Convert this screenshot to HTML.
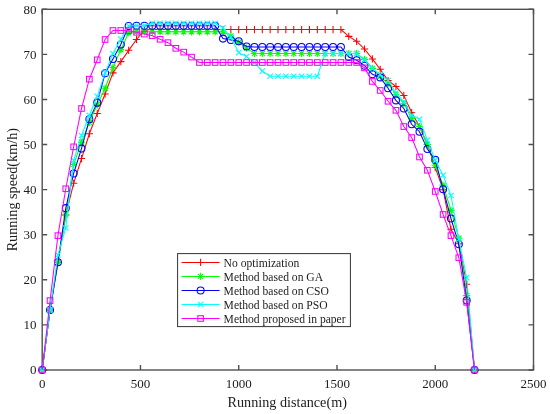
<!DOCTYPE html>
<html lang="en"><head><meta charset="utf-8"><title>Running speed vs running distance</title>
<style>html,body{margin:0;padding:0;background:#fff}body{width:550px;height:414px;overflow:hidden}</style>
</head><body>
<svg width="550" height="414" viewBox="0 0 550 414" style="display:block">
<rect width="550" height="414" fill="#fff"/>
<g stroke="#505050" stroke-width="1.4" fill="none">
<rect x="42.2" y="9.3" width="491.3" height="360.7"/>
<path d="M42.2 370.0v-5M42.2 9.3v5M140.46 370.0v-5M140.46 9.3v5M238.72 370.0v-5M238.72 9.3v5M336.98 370.0v-5M336.98 9.3v5M435.24 370.0v-5M435.24 9.3v5M533.5 370.0v-5M533.5 9.3v5M42.2 370h5M533.5 370h-5M42.2 324.91h5M533.5 324.91h-5M42.2 279.82h5M533.5 279.82h-5M42.2 234.74h5M533.5 234.74h-5M42.2 189.65h5M533.5 189.65h-5M42.2 144.56h5M533.5 144.56h-5M42.2 99.48h5M533.5 99.48h-5M42.2 54.39h5M533.5 54.39h-5M42.2 9.3h5M533.5 9.3h-5"/>
</g>
<g fill="none" stroke-width="1.05">
<g stroke="#ff0000"><polyline points="42.2,370 50.06,310.03 57.92,262.24 65.78,214.9 73.64,183.34 81.5,158.54 89.36,133.74 97.23,113.45 105.09,94.06 112.95,72.87 120.81,61.6 128.67,50.33 136.53,39.51 144.39,30.04 152.25,29.59 160.11,29.59 167.97,29.59 175.83,29.59 183.69,29.59 191.56,29.59 199.42,29.59 207.28,29.59 215.14,29.59 223,29.59 230.86,29.59 238.72,29.59 246.58,29.59 254.44,29.59 262.3,29.59 270.16,29.59 278.02,29.59 285.88,29.59 293.75,29.59 301.61,29.59 309.47,29.59 317.33,29.59 325.19,29.59 333.05,29.59 340.91,29.59 348.77,36.35 356.63,41.31 364.49,48.98 372.35,58.9 380.21,69.27 388.08,80.54 395.94,86.4 403.8,95.42 411.66,112.55 419.52,126.53 427.38,144.56 435.24,167.56 443.1,189.65 450.96,229.33 458.82,243.75 466.68,284.33 474.54,370"/>
<path d="M38.6 370H45.8M42.2 366.4V373.6"/><path d="M46.46 310.03H53.66M50.06 306.43V313.63"/><path d="M54.32 262.24H61.52M57.92 258.64V265.84"/><path d="M62.18 214.9H69.38M65.78 211.3V218.5"/><path d="M70.04 183.34H77.24M73.64 179.74V186.94"/><path d="M77.9 158.54H85.1M81.5 154.94V162.14"/><path d="M85.76 133.74H92.96M89.36 130.14V137.34"/><path d="M93.63 113.45H100.83M97.23 109.85V117.05"/><path d="M101.49 94.06H108.69M105.09 90.46V97.66"/><path d="M109.35 72.87H116.55M112.95 69.27V76.47"/><path d="M117.21 61.6H124.41M120.81 58V65.2"/><path d="M125.07 50.33H132.27M128.67 46.73V53.93"/><path d="M132.93 39.51H140.13M136.53 35.91V43.11"/><path d="M140.79 30.04H147.99M144.39 26.44V33.64"/><path d="M148.65 29.59H155.85M152.25 25.99V33.19"/><path d="M156.51 29.59H163.71M160.11 25.99V33.19"/><path d="M164.37 29.59H171.57M167.97 25.99V33.19"/><path d="M172.23 29.59H179.43M175.83 25.99V33.19"/><path d="M180.09 29.59H187.29M183.69 25.99V33.19"/><path d="M187.96 29.59H195.16M191.56 25.99V33.19"/><path d="M195.82 29.59H203.02M199.42 25.99V33.19"/><path d="M203.68 29.59H210.88M207.28 25.99V33.19"/><path d="M211.54 29.59H218.74M215.14 25.99V33.19"/><path d="M219.4 29.59H226.6M223 25.99V33.19"/><path d="M227.26 29.59H234.46M230.86 25.99V33.19"/><path d="M235.12 29.59H242.32M238.72 25.99V33.19"/><path d="M242.98 29.59H250.18M246.58 25.99V33.19"/><path d="M250.84 29.59H258.04M254.44 25.99V33.19"/><path d="M258.7 29.59H265.9M262.3 25.99V33.19"/><path d="M266.56 29.59H273.76M270.16 25.99V33.19"/><path d="M274.42 29.59H281.62M278.02 25.99V33.19"/><path d="M282.28 29.59H289.48M285.88 25.99V33.19"/><path d="M290.15 29.59H297.35M293.75 25.99V33.19"/><path d="M298.01 29.59H305.21M301.61 25.99V33.19"/><path d="M305.87 29.59H313.07M309.47 25.99V33.19"/><path d="M313.73 29.59H320.93M317.33 25.99V33.19"/><path d="M321.59 29.59H328.79M325.19 25.99V33.19"/><path d="M329.45 29.59H336.65M333.05 25.99V33.19"/><path d="M337.31 29.59H344.51M340.91 25.99V33.19"/><path d="M345.17 36.35H352.37M348.77 32.75V39.95"/><path d="M353.03 41.31H360.23M356.63 37.71V44.91"/><path d="M360.89 48.98H368.09M364.49 45.38V52.58"/><path d="M368.75 58.9H375.95M372.35 55.3V62.5"/><path d="M376.61 69.27H383.81M380.21 65.67V72.87"/><path d="M384.48 80.54H391.68M388.08 76.94V84.14"/><path d="M392.34 86.4H399.54M395.94 82.8V90"/><path d="M400.2 95.42H407.4M403.8 91.82V99.02"/><path d="M408.06 112.55H415.26M411.66 108.95V116.15"/><path d="M415.92 126.53H423.12M419.52 122.93V130.13"/><path d="M423.78 144.56H430.98M427.38 140.96V148.16"/><path d="M431.64 167.56H438.84M435.24 163.96V171.16"/><path d="M439.5 189.65H446.7M443.1 186.05V193.25"/><path d="M447.36 229.33H454.56M450.96 225.73V232.93"/><path d="M455.22 243.75H462.42M458.82 240.16V247.35"/><path d="M463.08 284.33H470.28M466.68 280.73V287.93"/><path d="M470.94 370H478.14M474.54 366.4V373.6"/>
</g>
<g stroke="#00ff00"><polyline points="42.2,370 50.06,310.03 57.92,262.24 65.78,214.9 73.64,164.4 81.5,142.31 89.36,122.47 97.23,104.89 105.09,88.2 112.95,67.46 120.81,49.88 128.67,32.75 136.53,31.84 144.39,31.84 152.25,31.84 160.11,31.84 167.97,31.84 175.83,31.84 183.69,31.84 191.56,31.84 199.42,31.84 207.28,31.84 215.14,31.84 223,31.84 230.86,35.9 238.72,42.21 246.58,48.08 254.44,53.49 262.3,53.49 270.16,53.49 278.02,53.49 285.88,53.49 293.75,53.49 301.61,53.49 309.47,53.49 317.33,53.49 325.19,53.49 333.05,53.49 340.91,53.49 348.77,53.49 356.63,53.49 364.49,59.35 372.35,68.36 380.21,76.48 388.08,83.69 395.94,94.52 403.8,103.53 411.66,118.41 419.52,126.53 427.38,144.56 435.24,165.3 443.1,185.14 450.96,210.39 458.82,238.34 466.68,295.61 474.54,370"/>
<path d="M38.6 370H45.8M42.2 366.4V373.6M39.6 367.4L44.8 372.6M39.6 372.6L44.8 367.4"/><path d="M46.46 310.03H53.66M50.06 306.43V313.63M47.46 307.43L52.66 312.63M47.46 312.63L52.66 307.43"/><path d="M54.32 262.24H61.52M57.92 258.64V265.84M55.32 259.64L60.52 264.84M55.32 264.84L60.52 259.64"/><path d="M62.18 214.9H69.38M65.78 211.3V218.5M63.18 212.3L68.38 217.5M63.18 217.5L68.38 212.3"/><path d="M70.04 164.4H77.24M73.64 160.8V168M71.04 161.8L76.24 167M71.04 167L76.24 161.8"/><path d="M77.9 142.31H85.1M81.5 138.71V145.91M78.9 139.71L84.1 144.91M78.9 144.91L84.1 139.71"/><path d="M85.76 122.47H92.96M89.36 118.87V126.07M86.76 119.87L91.96 125.07M86.76 125.07L91.96 119.87"/><path d="M93.63 104.89H100.83M97.23 101.29V108.49M94.63 102.29L99.83 107.49M94.63 107.49L99.83 102.29"/><path d="M101.49 88.2H108.69M105.09 84.6V91.8M102.49 85.6L107.69 90.8M102.49 90.8L107.69 85.6"/><path d="M109.35 67.46H116.55M112.95 63.86V71.06M110.35 64.86L115.55 70.06M110.35 70.06L115.55 64.86"/><path d="M117.21 49.88H124.41M120.81 46.28V53.48M118.21 47.28L123.41 52.48M118.21 52.48L123.41 47.28"/><path d="M125.07 32.75H132.27M128.67 29.15V36.35M126.07 30.15L131.27 35.35M126.07 35.35L131.27 30.15"/><path d="M132.93 31.84H140.13M136.53 28.24V35.44M133.93 29.24L139.13 34.44M133.93 34.44L139.13 29.24"/><path d="M140.79 31.84H147.99M144.39 28.24V35.44M141.79 29.24L146.99 34.44M141.79 34.44L146.99 29.24"/><path d="M148.65 31.84H155.85M152.25 28.24V35.44M149.65 29.24L154.85 34.44M149.65 34.44L154.85 29.24"/><path d="M156.51 31.84H163.71M160.11 28.24V35.44M157.51 29.24L162.71 34.44M157.51 34.44L162.71 29.24"/><path d="M164.37 31.84H171.57M167.97 28.24V35.44M165.37 29.24L170.57 34.44M165.37 34.44L170.57 29.24"/><path d="M172.23 31.84H179.43M175.83 28.24V35.44M173.23 29.24L178.43 34.44M173.23 34.44L178.43 29.24"/><path d="M180.09 31.84H187.29M183.69 28.24V35.44M181.09 29.24L186.29 34.44M181.09 34.44L186.29 29.24"/><path d="M187.96 31.84H195.16M191.56 28.24V35.44M188.96 29.24L194.16 34.44M188.96 34.44L194.16 29.24"/><path d="M195.82 31.84H203.02M199.42 28.24V35.44M196.82 29.24L202.02 34.44M196.82 34.44L202.02 29.24"/><path d="M203.68 31.84H210.88M207.28 28.24V35.44M204.68 29.24L209.88 34.44M204.68 34.44L209.88 29.24"/><path d="M211.54 31.84H218.74M215.14 28.24V35.44M212.54 29.24L217.74 34.44M212.54 34.44L217.74 29.24"/><path d="M219.4 31.84H226.6M223 28.24V35.44M220.4 29.24L225.6 34.44M220.4 34.44L225.6 29.24"/><path d="M227.26 35.9H234.46M230.86 32.3V39.5M228.26 33.3L233.46 38.5M228.26 38.5L233.46 33.3"/><path d="M235.12 42.21H242.32M238.72 38.61V45.81M236.12 39.61L241.32 44.81M236.12 44.81L241.32 39.61"/><path d="M242.98 48.08H250.18M246.58 44.48V51.68M243.98 45.48L249.18 50.68M243.98 50.68L249.18 45.48"/><path d="M250.84 53.49H258.04M254.44 49.89V57.09M251.84 50.89L257.04 56.09M251.84 56.09L257.04 50.89"/><path d="M258.7 53.49H265.9M262.3 49.89V57.09M259.7 50.89L264.9 56.09M259.7 56.09L264.9 50.89"/><path d="M266.56 53.49H273.76M270.16 49.89V57.09M267.56 50.89L272.76 56.09M267.56 56.09L272.76 50.89"/><path d="M274.42 53.49H281.62M278.02 49.89V57.09M275.42 50.89L280.62 56.09M275.42 56.09L280.62 50.89"/><path d="M282.28 53.49H289.48M285.88 49.89V57.09M283.28 50.89L288.48 56.09M283.28 56.09L288.48 50.89"/><path d="M290.15 53.49H297.35M293.75 49.89V57.09M291.15 50.89L296.35 56.09M291.15 56.09L296.35 50.89"/><path d="M298.01 53.49H305.21M301.61 49.89V57.09M299.01 50.89L304.21 56.09M299.01 56.09L304.21 50.89"/><path d="M305.87 53.49H313.07M309.47 49.89V57.09M306.87 50.89L312.07 56.09M306.87 56.09L312.07 50.89"/><path d="M313.73 53.49H320.93M317.33 49.89V57.09M314.73 50.89L319.93 56.09M314.73 56.09L319.93 50.89"/><path d="M321.59 53.49H328.79M325.19 49.89V57.09M322.59 50.89L327.79 56.09M322.59 56.09L327.79 50.89"/><path d="M329.45 53.49H336.65M333.05 49.89V57.09M330.45 50.89L335.65 56.09M330.45 56.09L335.65 50.89"/><path d="M337.31 53.49H344.51M340.91 49.89V57.09M338.31 50.89L343.51 56.09M338.31 56.09L343.51 50.89"/><path d="M345.17 53.49H352.37M348.77 49.89V57.09M346.17 50.89L351.37 56.09M346.17 56.09L351.37 50.89"/><path d="M353.03 53.49H360.23M356.63 49.89V57.09M354.03 50.89L359.23 56.09M354.03 56.09L359.23 50.89"/><path d="M360.89 59.35H368.09M364.49 55.75V62.95M361.89 56.75L367.09 61.95M361.89 61.95L367.09 56.75"/><path d="M368.75 68.36H375.95M372.35 64.76V71.96M369.75 65.76L374.95 70.96M369.75 70.96L374.95 65.76"/><path d="M376.61 76.48H383.81M380.21 72.88V80.08M377.61 73.88L382.81 79.08M377.61 79.08L382.81 73.88"/><path d="M384.48 83.69H391.68M388.08 80.09V87.29M385.48 81.09L390.68 86.29M385.48 86.29L390.68 81.09"/><path d="M392.34 94.52H399.54M395.94 90.92V98.12M393.34 91.92L398.54 97.12M393.34 97.12L398.54 91.92"/><path d="M400.2 103.53H407.4M403.8 99.93V107.13M401.2 100.93L406.4 106.13M401.2 106.13L406.4 100.93"/><path d="M408.06 118.41H415.26M411.66 114.81V122.01M409.06 115.81L414.26 121.01M409.06 121.01L414.26 115.81"/><path d="M415.92 126.53H423.12M419.52 122.93V130.13M416.92 123.93L422.12 129.13M416.92 129.13L422.12 123.93"/><path d="M423.78 144.56H430.98M427.38 140.96V148.16M424.78 141.96L429.98 147.16M424.78 147.16L429.98 141.96"/><path d="M431.64 165.3H438.84M435.24 161.7V168.9M432.64 162.7L437.84 167.9M432.64 167.9L437.84 162.7"/><path d="M439.5 185.14H446.7M443.1 181.54V188.74M440.5 182.54L445.7 187.74M440.5 187.74L445.7 182.54"/><path d="M447.36 210.39H454.56M450.96 206.79V213.99M448.36 207.79L453.56 212.99M448.36 212.99L453.56 207.79"/><path d="M455.22 238.34H462.42M458.82 234.74V241.94M456.22 235.74L461.42 240.94M456.22 240.94L461.42 235.74"/><path d="M463.08 295.61H470.28M466.68 292.01V299.21M464.08 293.01L469.28 298.21M464.08 298.21L469.28 293.01"/><path d="M470.94 370H478.14M474.54 366.4V373.6M471.94 367.4L477.14 372.6M471.94 372.6L477.14 367.4"/>
</g>
<g stroke="#0000ff"><polyline points="42.2,370 50.06,310.03 57.92,262.24 65.78,208.14 73.64,173.42 81.5,148.62 89.36,119.31 97.23,102.63 105.09,73.32 112.95,58.9 120.81,44.47 128.67,25.98 136.53,25.76 144.39,25.76 152.25,25.76 160.11,25.76 167.97,25.76 175.83,25.76 183.69,25.76 191.56,25.76 199.42,25.76 207.28,25.76 215.14,25.76 223,38.61 230.86,39.96 238.72,41.31 246.58,46.5 254.44,46.95 262.3,46.95 270.16,46.95 278.02,46.95 285.88,46.95 293.75,46.95 301.61,46.95 309.47,46.95 317.33,46.95 325.19,46.95 333.05,46.95 340.91,46.95 348.77,57.09 356.63,60.25 364.49,65.66 372.35,74.23 380.21,77.38 388.08,88.2 395.94,100.38 403.8,108.49 411.66,124.27 419.52,131.71 427.38,149.07 435.24,159.89 443.1,189.2 450.96,218.51 458.82,244.21 466.68,300.57 474.54,370"/>
<circle cx="42.2" cy="370" r="3.5"/><circle cx="50.06" cy="310.03" r="3.5"/><circle cx="57.92" cy="262.24" r="3.5"/><circle cx="65.78" cy="208.14" r="3.5"/><circle cx="73.64" cy="173.42" r="3.5"/><circle cx="81.5" cy="148.62" r="3.5"/><circle cx="89.36" cy="119.31" r="3.5"/><circle cx="97.23" cy="102.63" r="3.5"/><circle cx="105.09" cy="73.32" r="3.5"/><circle cx="112.95" cy="58.9" r="3.5"/><circle cx="120.81" cy="44.47" r="3.5"/><circle cx="128.67" cy="25.98" r="3.5"/><circle cx="136.53" cy="25.76" r="3.5"/><circle cx="144.39" cy="25.76" r="3.5"/><circle cx="152.25" cy="25.76" r="3.5"/><circle cx="160.11" cy="25.76" r="3.5"/><circle cx="167.97" cy="25.76" r="3.5"/><circle cx="175.83" cy="25.76" r="3.5"/><circle cx="183.69" cy="25.76" r="3.5"/><circle cx="191.56" cy="25.76" r="3.5"/><circle cx="199.42" cy="25.76" r="3.5"/><circle cx="207.28" cy="25.76" r="3.5"/><circle cx="215.14" cy="25.76" r="3.5"/><circle cx="223" cy="38.61" r="3.5"/><circle cx="230.86" cy="39.96" r="3.5"/><circle cx="238.72" cy="41.31" r="3.5"/><circle cx="246.58" cy="46.5" r="3.5"/><circle cx="254.44" cy="46.95" r="3.5"/><circle cx="262.3" cy="46.95" r="3.5"/><circle cx="270.16" cy="46.95" r="3.5"/><circle cx="278.02" cy="46.95" r="3.5"/><circle cx="285.88" cy="46.95" r="3.5"/><circle cx="293.75" cy="46.95" r="3.5"/><circle cx="301.61" cy="46.95" r="3.5"/><circle cx="309.47" cy="46.95" r="3.5"/><circle cx="317.33" cy="46.95" r="3.5"/><circle cx="325.19" cy="46.95" r="3.5"/><circle cx="333.05" cy="46.95" r="3.5"/><circle cx="340.91" cy="46.95" r="3.5"/><circle cx="348.77" cy="57.09" r="3.5"/><circle cx="356.63" cy="60.25" r="3.5"/><circle cx="364.49" cy="65.66" r="3.5"/><circle cx="372.35" cy="74.23" r="3.5"/><circle cx="380.21" cy="77.38" r="3.5"/><circle cx="388.08" cy="88.2" r="3.5"/><circle cx="395.94" cy="100.38" r="3.5"/><circle cx="403.8" cy="108.49" r="3.5"/><circle cx="411.66" cy="124.27" r="3.5"/><circle cx="419.52" cy="131.71" r="3.5"/><circle cx="427.38" cy="149.07" r="3.5"/><circle cx="435.24" cy="159.89" r="3.5"/><circle cx="443.1" cy="189.2" r="3.5"/><circle cx="450.96" cy="218.51" r="3.5"/><circle cx="458.82" cy="244.21" r="3.5"/><circle cx="466.68" cy="300.57" r="3.5"/><circle cx="474.54" cy="370" r="3.5"/>
</g>
<g stroke="#00ffff"><polyline points="42.2,370 50.06,310.03 57.92,255.03 65.78,227.97 73.64,160.34 81.5,135.54 89.36,115.26 97.23,96.32 105.09,72.87 112.95,53.49 120.81,39.06 128.67,25.98 136.53,25.53 144.39,25.53 152.25,23.28 160.11,23.28 167.97,23.28 175.83,23.28 183.69,23.28 191.56,23.28 199.42,23.28 207.28,23.28 215.14,23.28 223,27.79 230.86,37.25 238.72,52.58 246.58,56.64 254.44,62.5 262.3,71.07 270.16,76.25 278.02,76.25 285.88,76.25 293.75,76.25 301.61,76.25 309.47,76.25 317.33,76.25 325.19,53.49 333.05,53.49 340.91,53.49 348.77,53.49 356.63,53.49 364.49,60.25 372.35,68.36 380.21,74.68 388.08,80.54 395.94,92.71 403.8,101.73 411.66,115.26 419.52,119.31 427.38,140.05 435.24,160.34 443.1,175.22 450.96,195.51 458.82,239.25 466.68,277.57 474.54,370"/>
<path d="M39.5 367.3L44.9 372.7M39.5 372.7L44.9 367.3"/><path d="M47.36 307.33L52.76 312.73M47.36 312.73L52.76 307.33"/><path d="M55.22 252.33L60.62 257.73M55.22 257.73L60.62 252.33"/><path d="M63.08 225.27L68.48 230.67M63.08 230.67L68.48 225.27"/><path d="M70.94 157.64L76.34 163.04M70.94 163.04L76.34 157.64"/><path d="M78.8 132.84L84.2 138.24M78.8 138.24L84.2 132.84"/><path d="M86.66 112.56L92.06 117.96M86.66 117.96L92.06 112.56"/><path d="M94.53 93.62L99.93 99.02M94.53 99.02L99.93 93.62"/><path d="M102.39 70.17L107.79 75.57M102.39 75.57L107.79 70.17"/><path d="M110.25 50.79L115.65 56.19M110.25 56.19L115.65 50.79"/><path d="M118.11 36.36L123.51 41.76M118.11 41.76L123.51 36.36"/><path d="M125.97 23.28L131.37 28.68M125.97 28.68L131.37 23.28"/><path d="M133.83 22.83L139.23 28.23M133.83 28.23L139.23 22.83"/><path d="M141.69 22.83L147.09 28.23M141.69 28.23L147.09 22.83"/><path d="M149.55 20.58L154.95 25.98M149.55 25.98L154.95 20.58"/><path d="M157.41 20.58L162.81 25.98M157.41 25.98L162.81 20.58"/><path d="M165.27 20.58L170.67 25.98M165.27 25.98L170.67 20.58"/><path d="M173.13 20.58L178.53 25.98M173.13 25.98L178.53 20.58"/><path d="M180.99 20.58L186.39 25.98M180.99 25.98L186.39 20.58"/><path d="M188.86 20.58L194.26 25.98M188.86 25.98L194.26 20.58"/><path d="M196.72 20.58L202.12 25.98M196.72 25.98L202.12 20.58"/><path d="M204.58 20.58L209.98 25.98M204.58 25.98L209.98 20.58"/><path d="M212.44 20.58L217.84 25.98M212.44 25.98L217.84 20.58"/><path d="M220.3 25.09L225.7 30.49M220.3 30.49L225.7 25.09"/><path d="M228.16 34.55L233.56 39.95M228.16 39.95L233.56 34.55"/><path d="M236.02 49.88L241.42 55.28M236.02 55.28L241.42 49.88"/><path d="M243.88 53.94L249.28 59.34M243.88 59.34L249.28 53.94"/><path d="M251.74 59.8L257.14 65.2M251.74 65.2L257.14 59.8"/><path d="M259.6 68.37L265 73.77M259.6 73.77L265 68.37"/><path d="M267.46 73.55L272.86 78.95M267.46 78.95L272.86 73.55"/><path d="M275.32 73.55L280.72 78.95M275.32 78.95L280.72 73.55"/><path d="M283.18 73.55L288.58 78.95M283.18 78.95L288.58 73.55"/><path d="M291.05 73.55L296.45 78.95M291.05 78.95L296.45 73.55"/><path d="M298.91 73.55L304.31 78.95M298.91 78.95L304.31 73.55"/><path d="M306.77 73.55L312.17 78.95M306.77 78.95L312.17 73.55"/><path d="M314.63 73.55L320.03 78.95M314.63 78.95L320.03 73.55"/><path d="M322.49 50.79L327.89 56.19M322.49 56.19L327.89 50.79"/><path d="M330.35 50.79L335.75 56.19M330.35 56.19L335.75 50.79"/><path d="M338.21 50.79L343.61 56.19M338.21 56.19L343.61 50.79"/><path d="M346.07 50.79L351.47 56.19M346.07 56.19L351.47 50.79"/><path d="M353.93 50.79L359.33 56.19M353.93 56.19L359.33 50.79"/><path d="M361.79 57.55L367.19 62.95M361.79 62.95L367.19 57.55"/><path d="M369.65 65.66L375.05 71.06M369.65 71.06L375.05 65.66"/><path d="M377.51 71.98L382.91 77.38M377.51 77.38L382.91 71.98"/><path d="M385.38 77.84L390.78 83.24M385.38 83.24L390.78 77.84"/><path d="M393.24 90.01L398.64 95.41M393.24 95.41L398.64 90.01"/><path d="M401.1 99.03L406.5 104.43M401.1 104.43L406.5 99.03"/><path d="M408.96 112.56L414.36 117.96M408.96 117.96L414.36 112.56"/><path d="M416.82 116.61L422.22 122.01M416.82 122.01L422.22 116.61"/><path d="M424.68 137.35L430.08 142.75M424.68 142.75L430.08 137.35"/><path d="M432.54 157.64L437.94 163.04M432.54 163.04L437.94 157.64"/><path d="M440.4 172.52L445.8 177.92M440.4 177.92L445.8 172.52"/><path d="M448.26 192.81L453.66 198.21M448.26 198.21L453.66 192.81"/><path d="M456.12 236.55L461.52 241.95M456.12 241.95L461.52 236.55"/><path d="M463.98 274.87L469.38 280.27M463.98 280.27L469.38 274.87"/><path d="M471.84 367.3L477.24 372.7M471.84 372.7L477.24 367.3"/>
</g>
<g stroke="#ff00ff"><polyline points="42.2,370 50.06,300.57 57.92,235.64 65.78,188.75 73.64,146.82 81.5,108.49 89.36,79.19 97.23,59.8 105.09,39.51 112.95,30.49 120.81,30.49 128.67,30.72 136.53,32.29 144.39,34.1 152.25,35.68 160.11,39.28 167.97,42.66 175.83,48.3 183.69,52.13 191.56,57.09 199.42,62.5 207.28,62.5 215.14,62.5 223,62.5 230.86,62.5 238.72,62.5 246.58,62.5 254.44,62.5 262.3,62.5 270.16,62.5 278.02,62.5 285.88,62.5 293.75,62.5 301.61,62.5 309.47,62.5 317.33,62.5 325.19,62.5 333.05,62.5 340.91,62.5 348.77,62.5 356.63,62.5 364.49,67.91 372.35,81.44 380.21,90.46 388.08,101.28 395.94,110.3 403.8,126.53 411.66,137.57 419.52,156.96 427.38,170.26 435.24,191.45 443.1,214.45 450.96,235.64 458.82,257.73 466.68,302.37 474.54,370"/>
<rect x="39.4" y="367.2" width="5.6" height="5.6"/><rect x="47.26" y="297.77" width="5.6" height="5.6"/><rect x="55.12" y="232.84" width="5.6" height="5.6"/><rect x="62.98" y="185.95" width="5.6" height="5.6"/><rect x="70.84" y="144.02" width="5.6" height="5.6"/><rect x="78.7" y="105.69" width="5.6" height="5.6"/><rect x="86.56" y="76.39" width="5.6" height="5.6"/><rect x="94.43" y="57" width="5.6" height="5.6"/><rect x="102.29" y="36.71" width="5.6" height="5.6"/><rect x="110.15" y="27.69" width="5.6" height="5.6"/><rect x="118.01" y="27.69" width="5.6" height="5.6"/><rect x="125.87" y="27.92" width="5.6" height="5.6"/><rect x="133.73" y="29.49" width="5.6" height="5.6"/><rect x="141.59" y="31.3" width="5.6" height="5.6"/><rect x="149.45" y="32.88" width="5.6" height="5.6"/><rect x="157.31" y="36.48" width="5.6" height="5.6"/><rect x="165.17" y="39.86" width="5.6" height="5.6"/><rect x="173.03" y="45.5" width="5.6" height="5.6"/><rect x="180.89" y="49.33" width="5.6" height="5.6"/><rect x="188.76" y="54.29" width="5.6" height="5.6"/><rect x="196.62" y="59.7" width="5.6" height="5.6"/><rect x="204.48" y="59.7" width="5.6" height="5.6"/><rect x="212.34" y="59.7" width="5.6" height="5.6"/><rect x="220.2" y="59.7" width="5.6" height="5.6"/><rect x="228.06" y="59.7" width="5.6" height="5.6"/><rect x="235.92" y="59.7" width="5.6" height="5.6"/><rect x="243.78" y="59.7" width="5.6" height="5.6"/><rect x="251.64" y="59.7" width="5.6" height="5.6"/><rect x="259.5" y="59.7" width="5.6" height="5.6"/><rect x="267.36" y="59.7" width="5.6" height="5.6"/><rect x="275.22" y="59.7" width="5.6" height="5.6"/><rect x="283.08" y="59.7" width="5.6" height="5.6"/><rect x="290.95" y="59.7" width="5.6" height="5.6"/><rect x="298.81" y="59.7" width="5.6" height="5.6"/><rect x="306.67" y="59.7" width="5.6" height="5.6"/><rect x="314.53" y="59.7" width="5.6" height="5.6"/><rect x="322.39" y="59.7" width="5.6" height="5.6"/><rect x="330.25" y="59.7" width="5.6" height="5.6"/><rect x="338.11" y="59.7" width="5.6" height="5.6"/><rect x="345.97" y="59.7" width="5.6" height="5.6"/><rect x="353.83" y="59.7" width="5.6" height="5.6"/><rect x="361.69" y="65.11" width="5.6" height="5.6"/><rect x="369.55" y="78.64" width="5.6" height="5.6"/><rect x="377.41" y="87.66" width="5.6" height="5.6"/><rect x="385.28" y="98.48" width="5.6" height="5.6"/><rect x="393.14" y="107.5" width="5.6" height="5.6"/><rect x="401" y="123.73" width="5.6" height="5.6"/><rect x="408.86" y="134.77" width="5.6" height="5.6"/><rect x="416.72" y="154.16" width="5.6" height="5.6"/><rect x="424.58" y="167.46" width="5.6" height="5.6"/><rect x="432.44" y="188.65" width="5.6" height="5.6"/><rect x="440.3" y="211.65" width="5.6" height="5.6"/><rect x="448.16" y="232.84" width="5.6" height="5.6"/><rect x="456.02" y="254.93" width="5.6" height="5.6"/><rect x="463.88" y="299.57" width="5.6" height="5.6"/><rect x="471.74" y="367.2" width="5.6" height="5.6"/>
</g>
</g>
<g font-family="'Liberation Serif','Times New Roman',serif" fill="#1c1c1c">
<g font-size="13px" text-anchor="middle">
<text x="42.2" y="387.5">0</text>
<text x="140.46" y="387.5">500</text>
<text x="238.72" y="387.5">1000</text>
<text x="336.98" y="387.5">1500</text>
<text x="435.24" y="387.5">2000</text>
<text x="533.5" y="387.5">2500</text>
</g><g font-size="13px" text-anchor="end">
<text x="36.5" y="374.4">0</text>
<text x="36.5" y="329.31">10</text>
<text x="36.5" y="284.22">20</text>
<text x="36.5" y="239.14">30</text>
<text x="36.5" y="194.05">40</text>
<text x="36.5" y="148.96">50</text>
<text x="36.5" y="103.88">60</text>
<text x="36.5" y="58.79">70</text>
<text x="36.5" y="13.7">80</text>
</g>
<text x="287.2" y="407" font-size="14.2px" text-anchor="middle">Running distance(m)</text>
<text transform="translate(17.2 189.7) rotate(-90)" font-size="14.2px" text-anchor="middle">Running speed(km/h)</text>
<rect x="177.6" y="253.6" width="172.8" height="73" fill="#fff" stroke="#333" stroke-width="1"/>
<g font-size="11.6px">
<text x="223.6" y="266.7">No optimization</text>
<text x="223.6" y="280.7">Method based on GA</text>
<text x="223.6" y="294.7">Method based on CSO</text>
<text x="223.6" y="308.8">Method based on PSO</text>
<text x="223.6" y="322.8">Method proposed in paper</text>
</g></g>
<g fill="none" stroke-width="1.05">
<g stroke="#ff0000"><path d="M181.6 262.4H219.6"/><path d="M197 262.4H204.2M200.6 258.8V266"/></g>
<g stroke="#00ff00"><path d="M181.6 276.4H219.6"/><path d="M197 276.4H204.2M200.6 272.8V280M198 273.8L203.2 279M198 279L203.2 273.8"/></g>
<g stroke="#0000ff"><path d="M181.6 290.4H219.6"/><circle cx="200.6" cy="290.4" r="3.5"/></g>
<g stroke="#00ffff"><path d="M181.6 304.5H219.6"/><path d="M197.9 301.8L203.3 307.2M197.9 307.2L203.3 301.8"/></g>
<g stroke="#ff00ff"><path d="M181.6 318.5H219.6"/><rect x="197.8" y="315.7" width="5.6" height="5.6"/></g>
</g>
</svg>
</body></html>
